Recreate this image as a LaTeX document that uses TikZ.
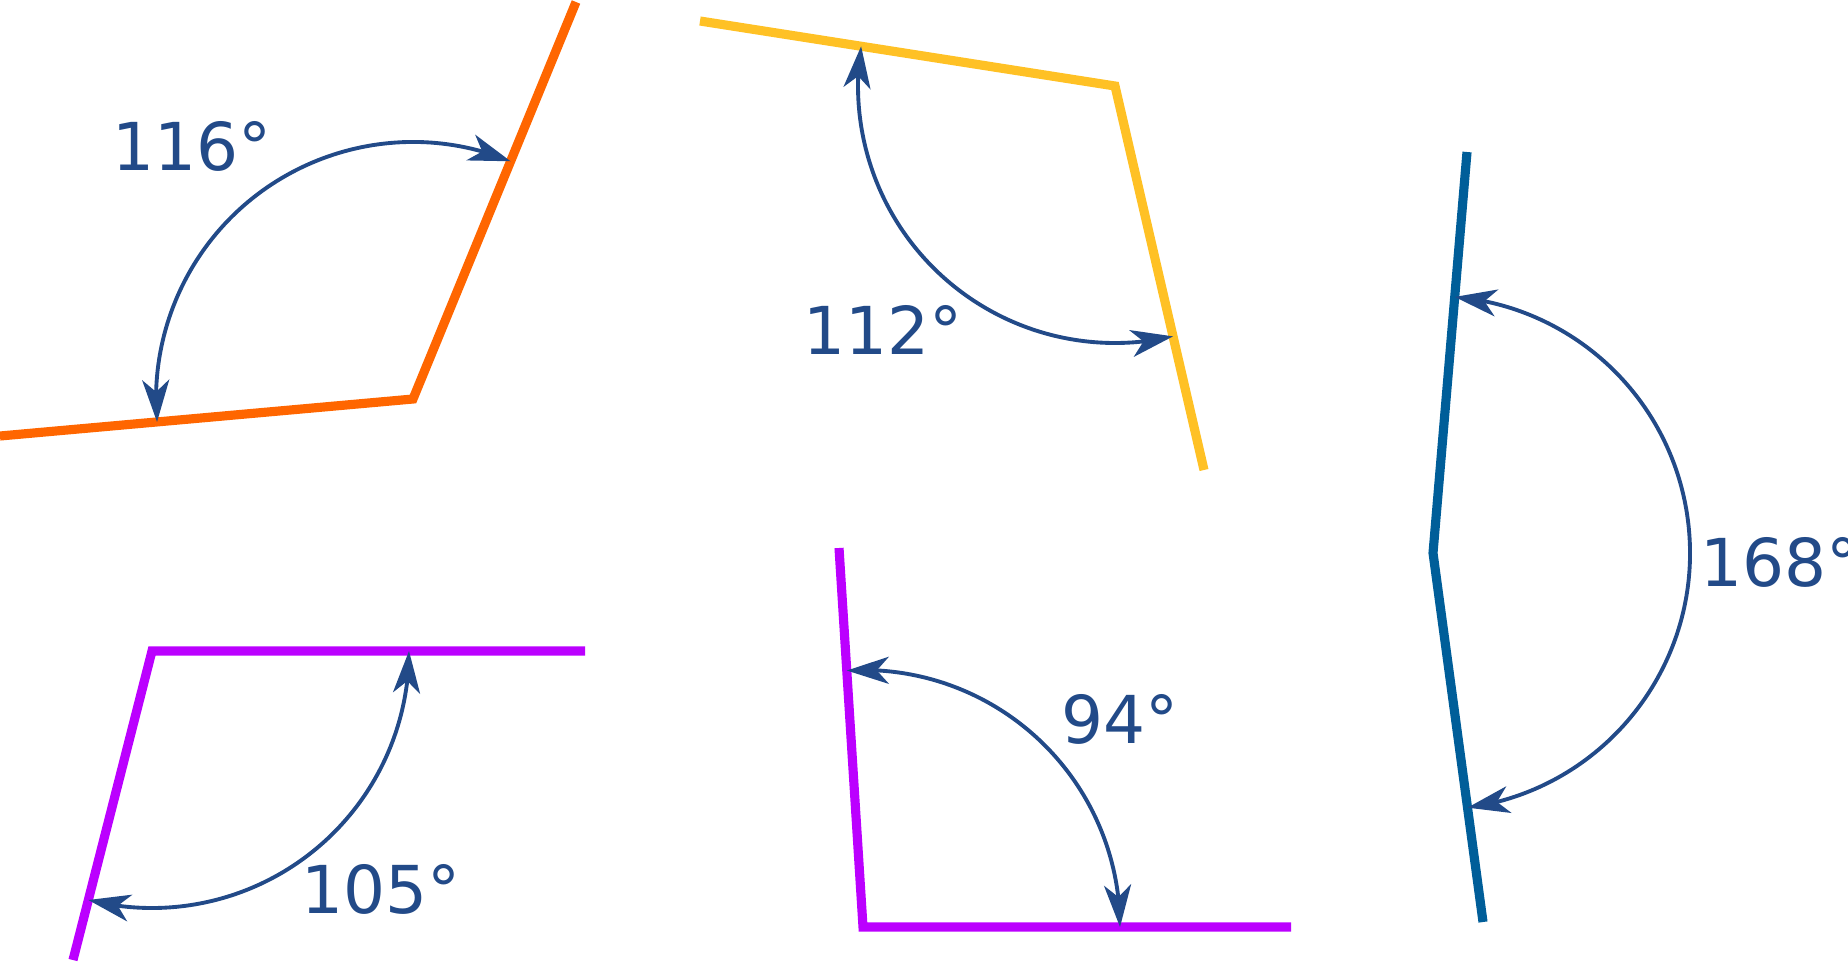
\documentclass[tikz,border=0pt]{standalone}
\usepackage{fontspec}
\setmainfont{DejaVu Sans}
\usetikzlibrary{arrows.meta,bending,angles}
\definecolor{arcblue}{HTML}{224A88}
\definecolor{legorange}{HTML}{FF6600}
\definecolor{legyellow}{HTML}{FFC125}
\definecolor{legpurple}{HTML}{BB00FF}
\definecolor{legblue}{HTML}{005E99}
\begin{document}
\begin{tikzpicture}[line width=2.6pt,>={Stealth[length=4.2mm,width=2.7mm,inset=1.2mm]},
  turn/.style={draw=arcblue,line width=1.1pt,<->,angle radius=2.57cm},
  deg/.style={anchor=base west,inner sep=0pt,text=arcblue,font=\fontsize{18.8}{22}\selectfont}]
\useasboundingbox (0,0) rectangle (18.48,9.63);
% top left, orange
\coordinate (oa) at (0,5.27); \coordinate (ov) at (4.13,5.64); \coordinate (ob) at (5.76,9.61);
\draw[legorange] (oa) -- (ov) -- (ob); \pic[turn] {angle=ob--ov--oa};
\node[deg] (o116) at (1.08,7.93) {116°};
% top middle, yellow
\coordinate (ya) at (7.00,9.42); \coordinate (yv) at (11.15,8.77); \coordinate (yb) at (12.04,4.93);
\draw[legyellow] (ya) -- (yv) -- (yb); \pic[turn] {angle=ya--yv--yb};
\node[deg] (y112) at (7.99,6.09) {112°};
% right, blue
\coordinate (ba) at (14.67,8.11); \coordinate (bv) at (14.33,4.10); \coordinate (bb) at (14.83,0.41);
\draw[legblue] (ba) -- (bv) -- (bb); \pic[turn] {angle=bb--bv--ba};
\node[deg] (b168) at (16.96,3.77) {168°};
% bottom left, purple
\coordinate (pa) at (5.85,3.12); \coordinate (pv) at (1.52,3.12); \coordinate (pb) at (0.73,0.03);
\draw[legpurple] (pa) -- (pv) -- (pb); \pic[turn] {angle=pb--pv--pa};
\node[deg] (p105) at (2.97,0.50) {105°};
% bottom middle, purple
\coordinate (qa) at (8.39,4.15); \coordinate (qv) at (8.63,0.36); \coordinate (qb) at (12.91,0.36);
\draw[legpurple] (qa) -- (qv) -- (qb); \pic[turn] {angle=qb--qv--qa};
\node[deg] (q94) at (10.57,2.20) {94°};
\end{tikzpicture}
\end{document}
